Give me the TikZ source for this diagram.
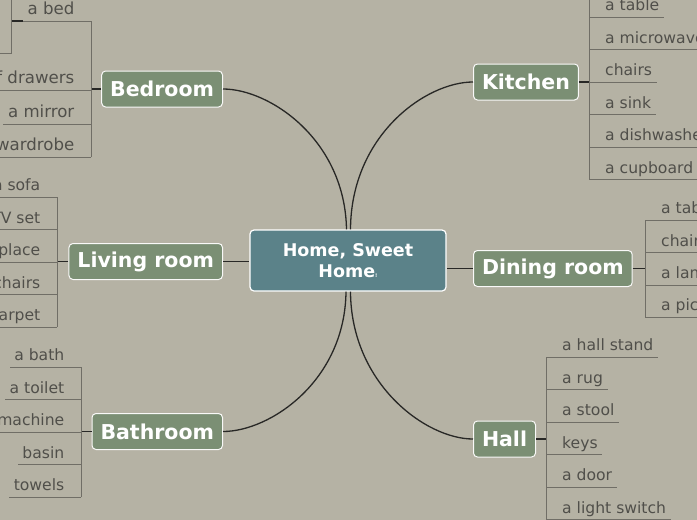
\documentclass[tikz,border=0pt]{standalone}
\usepackage{fontspec}
\setmainfont{DejaVu Sans}

\definecolor{paper}{RGB}{181,178,164}
\definecolor{hubteal}{RGB}{91,130,137}
\definecolor{roomgreen}{RGB}{123,143,116}
\definecolor{itemgray}{RGB}{80,79,74}
\definecolor{rulegray}{RGB}{112,110,102}
\definecolor{stemgray}{RGB}{40,40,38}

\tikzset{%
  hub/.style={draw=white, fill=hubteal, rounded corners=4pt, line width=1.2pt, text=white, font=\fontsize{17.5}{21}\selectfont\bfseries, align=center, minimum width=196pt, minimum height=61pt},
  room/.style={draw=white!92!paper, fill=roomgreen, rounded corners=4pt, line width=1pt, text=white, font=\fontsize{20.5}{24}\selectfont\bfseries, inner xsep=8.5pt, minimum height=36pt},
  leaf/.style={text=itemgray, font=\fontsize{15.6}{18}\selectfont, inner xsep=4.5pt, inner ysep=0pt, text height=11pt, text depth=6pt},
  leafL/.style={leaf, anchor=south east},
  leafR/.style={leaf, anchor=south west},
  branch/.style={draw, color=stemgray, line width=1.3pt},
  stem/.style={draw, color=stemgray, line width=1.4pt},
  rule/.style={draw, color=rulegray, line width=0.9pt},
}

\begin{document}
\begin{tikzpicture}[x=1pt, y=-1pt]
\useasboundingbox (0,0) rectangle (697,520);
\fill[paper] (0,0) rectangle (697,520);
\clip (0,0) rectangle (697,520);

% hub and rooms
\node[hub] (home) at (348,260.5) {Home, Sweet\\Home{\fontsize{5}{5}\selectfont !}};
\node[room, anchor=east] (bedroom) at (223,89) {Bedroom};
\node[room, anchor=west] (kitchen) at (473,82) {Kitchen};
\node[room, anchor=east] (living) at (223,261.5) {Living room};
\node[room, anchor=west] (dining) at (473,268.5) {Dining room};
\node[room, anchor=east] (bathroom) at (223,431.5) {Bathroom};
\node[room, anchor=west] (hall) at (473,439) {Hall};

\draw[branch] (bedroom.east) .. controls (270,89) and (345,140) .. ([xshift=-1.5pt]home.north);
\draw[branch] (kitchen.west) .. controls (426,82) and (351,135) .. ([xshift=2.5pt]home.north);
\draw[branch] (bathroom.east) .. controls (270,431.5) and (345,381) .. ([xshift=-2pt]home.south);
\draw[branch] (hall.west) .. controls (426,439) and (351,384) .. ([xshift=2.5pt]home.south);
\draw[branch] (living.east) -- (living.east -| home.west);
\draw[branch] (dining.west) -- (dining.west -| home.east);

% spines
\coordinate (bedsp) at (91,89);
\coordinate (kitsp) at (589,82);
\coordinate (kittop) at (589,0);
\coordinate (livsp) at (57,261.5);
\coordinate (dinsp) at (645,268.5);
\coordinate (bathsp) at (81,431.5);
\coordinate (hallsp) at (546,439);
\coordinate (hallbot) at (546,521);

% bedroom
\node[leafL, font=\fontsize{16.6}{19}\selectfont] (bed) at (79,21) {a bed};
\node[leafL, font=\fontsize{16.6}{19}\selectfont] (drawers) at (79,90) {chest of drawers};
\node[leafL, font=\fontsize{16.6}{19}\selectfont] (mirror) at (79,124) {a mirror};
\node[leafL, font=\fontsize{16.6}{19}\selectfont] (wardrobe) at (79,157) {a wardrobe};
\draw[stem] (bedroom) -- (bedsp);
\draw[rule] (bedsp |- bed.south) -- (bedsp |- wardrobe.south);
\draw[rule] (bedsp |- bed.south) -- (bed.south west);
\draw[rule] (bedsp |- drawers.south) -- (drawers.south west);
\draw[rule] (bedsp |- mirror.south) -- (mirror.south west);
\draw[rule] (bedsp |- wardrobe.south) -- (wardrobe.south west);
\coordinate (bedsub) at (11,21);
\coordinate (bedsubtop) at (11,0);
\coordinate (bedsubbot) at (11,53);
\coordinate (bedsubend) at (0,53);
\draw[stem] (bed.south west) -- (bedsub);
\draw[rule] (bedsubtop) -- (bedsubbot) -- (bedsubend);

% kitchen
\node[leafR] (ktable) at (600.5,17) {a table};
\node[leafR] (microwave) at (600.5,49.5) {a microwave};
\node[leafR] (kchairs) at (600.5,82) {chairs};
\node[leafR] (sink) at (600.5,114.5) {a sink};
\node[leafR] (dishwasher) at (600.5,147) {a dishwasher};
\node[leafR] (cupboard) at (600.5,179.5) {a cupboard};
\draw[stem] (kitchen) -- (kitsp);
\draw[rule] (kittop) -- (kitsp |- cupboard.south);
\draw[rule] (kitsp |- ktable.south) -- (ktable.south east);
\draw[rule] (kitsp |- microwave.south) -- (microwave.south east);
\draw[rule] (kitsp |- kchairs.south) -- (kchairs.south east);
\draw[rule] (kitsp |- sink.south) -- (sink.south east);
\draw[rule] (kitsp |- dishwasher.south) -- (dishwasher.south east);
\draw[rule] (kitsp |- cupboard.south) -- (cupboard.south east);

% living room
\node[leafL] (sofa) at (45,197) {a sofa};
\node[leafL] (tvset) at (45,229.5) {a TV set};
\node[leafL] (fireplace) at (45,262) {a fireplace};
\node[leafL] (armchairs) at (45,294.5) {armchairs};
\node[leafL] (carpet) at (45,327) {a carpet};
\draw[stem] (living) -- (livsp);
\draw[rule] (livsp |- sofa.south) -- (livsp |- carpet.south);
\draw[rule] (livsp |- sofa.south) -- (sofa.south west);
\draw[rule] (livsp |- tvset.south) -- (tvset.south west);
\draw[rule] (livsp |- fireplace.south) -- (fireplace.south west);
\draw[rule] (livsp |- armchairs.south) -- (armchairs.south west);
\draw[rule] (livsp |- carpet.south) -- (carpet.south west);

% dining room
\node[leafR] (dtable) at (656.5,220) {a table};
\node[leafR] (dchairs) at (656.5,252.5) {chairs};
\node[leafR] (lamp) at (656.5,285) {a lamp};
\node[leafR] (picture) at (656.5,317) {a picture};
\draw[stem] (dining) -- (dinsp);
\draw[rule] (dinsp |- dtable.south) -- (dinsp |- picture.south);
\draw[rule] (dinsp |- dtable.south) -- (dtable.south east);
\draw[rule] (dinsp |- dchairs.south) -- (dchairs.south east);
\draw[rule] (dinsp |- lamp.south) -- (lamp.south east);
\draw[rule] (dinsp |- picture.south) -- (picture.south east);

% bathroom
\node[leafL] (bath) at (69,367) {a bath};
\node[leafL] (toilet) at (69,399.5) {a toilet};
\node[leafL] (washer) at (69,432) {a washing machine};
\node[leafL] (basin) at (69,464.5) {basin};
\node[leafL] (towels) at (69,497) {towels};
\draw[stem] (bathroom) -- (bathsp);
\draw[rule] (bathsp |- bath.south) -- (bathsp |- towels.south);
\draw[rule] (bathsp |- bath.south) -- (bath.south west);
\draw[rule] (bathsp |- toilet.south) -- (toilet.south west);
\draw[rule] (bathsp |- washer.south) -- (washer.south west);
\draw[rule] (bathsp |- basin.south) -- (basin.south west);
\draw[rule] (bathsp |- towels.south) -- (towels.south west);

% hall
\node[leafR] (stand) at (557.5,357) {a hall stand};
\node[leafR] (rug) at (557.5,389.5) {a rug};
\node[leafR] (stool) at (557.5,422) {a stool};
\node[leafR] (keys) at (557.5,454.5) {keys};
\node[leafR] (door) at (557.5,487) {a door};
\node[leafR] (switch) at (557.5,519.5) {a light switch};
\draw[stem] (hall) -- (hallsp);
\draw[rule] (hallsp |- stand.south) -- (hallbot);
\draw[rule] (hallsp |- stand.south) -- (stand.south east);
\draw[rule] (hallsp |- rug.south) -- (rug.south east);
\draw[rule] (hallsp |- stool.south) -- (stool.south east);
\draw[rule] (hallsp |- keys.south) -- (keys.south east);
\draw[rule] (hallsp |- door.south) -- (door.south east);
\draw[rule] (hallsp |- switch.south) -- (switch.south east);
\end{tikzpicture}
\end{document}
